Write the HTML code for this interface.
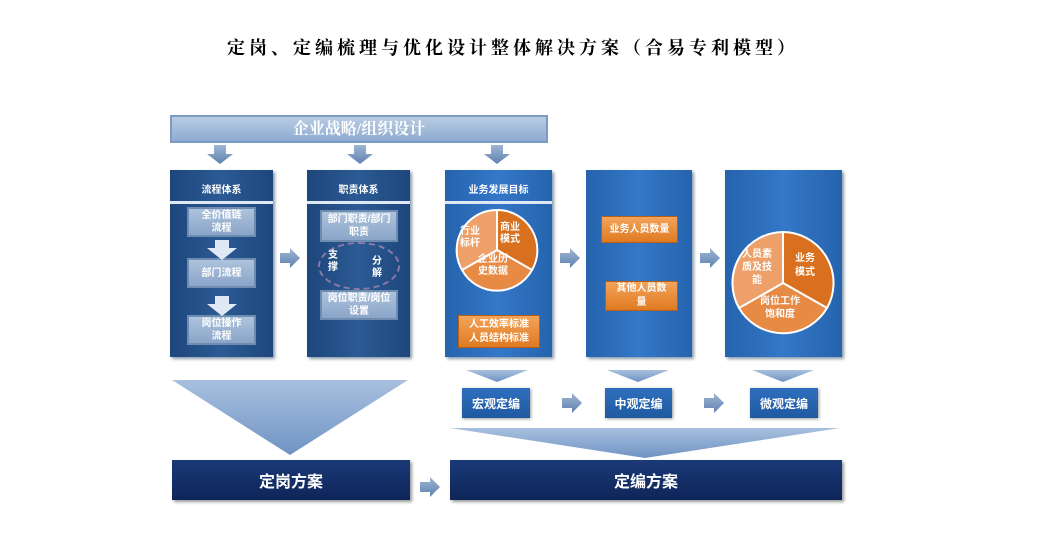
<!DOCTYPE html><html><head><meta charset="utf-8"><style>
body{margin:0;width:1055px;height:540px;background:#fff;position:relative;overflow:hidden;font-family:"Liberation Serif","Noto Serif CJK SC",serif}
.a{position:absolute;box-sizing:border-box}
.t{color:#fff;font-weight:bold;text-align:center;font-family:"Liberation Sans","Noto Sans CJK SC",sans-serif}
.dk{background:linear-gradient(90deg,#1d467c,#2c5a94 50%,#1d467c);box-shadow:2px 2px 3px #8899aa}
.br{background:linear-gradient(90deg,#2563ad,#3478c8 50%,#2563ad);box-shadow:2px 2px 3px #8899aa}
.gr{background:linear-gradient(#aec3dc,#8aa5c8);border:2px solid #6e8bb0;font-size:10px;display:flex;align-items:center;justify-content:center;line-height:13px}
.or{background:linear-gradient(#f2a45a,#e07a22);border:1px solid #b85f15;font-size:10px;display:flex;align-items:center;justify-content:center;line-height:14px}
.hl{height:3px;background:#dfe8f4}
.nv{background:linear-gradient(#1a3a78,#0e2558);font-size:16px;display:flex;align-items:center;justify-content:center;box-shadow:2px 2px 3px #999}
.sb{background:linear-gradient(#2f6fbf,#1f5aa0);font-size:12px;display:flex;align-items:center;justify-content:center;box-shadow:1px 1px 3px #999}
</style></head><body>
<div class="a" style="left:0;top:34px;width:1026px;text-align:center;font-size:18px;font-weight:bold;letter-spacing:4px">定岗、定编梳理与优化设计整体解决方案（合易专利模型）</div>
<div class="a t" style="left:170px;top:115px;width:378px;height:28px;background:linear-gradient(#b9cce3,#8eabd0);border:2px solid #7d9bc2;font-size:16px;line-height:26px;font-family:'Liberation Serif','Noto Serif CJK SC',serif">企业战略/组织设计</div>
<svg class="a" style="left:0;top:0" width="1055" height="540">
<defs><linearGradient id="ar" x1="0" x2="0" y1="0" y2="1"><stop offset="0" stop-color="#9fb6d4"/><stop offset="1" stop-color="#5f82b0"/></linearGradient>
<linearGradient id="tri" x1="0" x2="0" y1="0" y2="1"><stop offset="0" stop-color="#a8c0de"/><stop offset="1" stop-color="#6f93c4"/></linearGradient></defs>
<g fill="url(#ar)">
<path d="M214 145h12v9h7l-13 10-13-10h7z"/><path d="M354 145h12v9h7l-13 10-13-10h7z"/><path d="M491 145h12v9h7l-13 10-13-10h7z"/>
<path d="M280 253h10v-5l10 10-10 10v-5h-10z"/><path d="M560 253h10v-5l10 10-10 10v-5h-10z"/><path d="M700 253h10v-5l10 10-10 10v-5h-10z"/>
<path d="M562 398h10v-5l10 10-10 10v-5h-10z"/><path d="M704 398h10v-5l10 10-10 10v-5h-10z"/><path d="M420 482h10v-5l10 10-10 10v-5h-10z"/>
<path d="M492 294h10v6h6l-11 9-11-9h6z"/><path d="M634 258h10v6h6l-11 9-11-9h6z"/>
</g>
<path d="M172 380L408 380 290 455z" fill="url(#tri)"/>
<path d="M450 428L840 428 645 458z" fill="url(#tri)"/>
<path d="M466 370L528 370 497 382z" fill="url(#tri)"/><path d="M607 370L669 370 638 382z" fill="url(#tri)"/><path d="M752 370L814 370 783 382z" fill="url(#tri)"/>
</svg>
<div class="a dk" style="left:170px;top:170px;width:103px;height:187px"><div class="t" style="font-size:10px;margin-top:11px">流程体系</div><div class="hl" style="margin-top:5px"></div></div>
<div class="a t gr" style="left:187px;top:207px;width:69px;height:30px">全价值链<br>流程</div>
<div class="a t gr" style="left:187px;top:258px;width:69px;height:30px">部门流程</div>
<div class="a t gr" style="left:187px;top:315px;width:69px;height:30px">岗位操作<br>流程</div>
<svg class="a" style="left:200px;top:238px" width="45" height="80"><path d="M15 2h14v8h8l-15 12-15-12h8zM15 58h14v8h8l-15 12-15-12h8z" fill="#dfe8f4"/></svg>
<div class="a dk" style="left:307px;top:170px;width:103px;height:187px"><div class="t" style="font-size:10px;margin-top:11px">职责体系</div><div class="hl" style="margin-top:5px"></div></div>
<div class="a t gr" style="left:320px;top:210px;width:78px;height:32px">部门职责/部门<br>职责</div>
<div class="a" style="left:318px;top:242px;width:82px;height:48px;border:2px dashed #8a7aa8;border-radius:50%"></div>
<div class="a t" style="left:328px;top:250px;font-size:10px;line-height:12px">支<br>撑</div>
<div class="a t" style="left:372px;top:256px;font-size:10px;line-height:12px">分<br>解</div>
<div class="a t gr" style="left:320px;top:290px;width:78px;height:30px">岗位职责/岗位<br>设置</div>
<div class="a br" style="left:445px;top:170px;width:107px;height:187px"><div class="t" style="font-size:10px;margin-top:11px">业务发展目标</div><div class="hl" style="margin-top:5px"></div></div>
<svg class="a" style="left:455px;top:208px" width="84" height="84"><g stroke="#fff" stroke-width="2"><path d="M42 42L42 2A40 40 0 0 1 77 62Z" fill="#d9701f"/><path d="M42 42L77 62A40 40 0 0 1 7 62Z" fill="#e68a44"/><path d="M42 42L7 62A40 40 0 0 1 42 2Z" fill="#eea06a"/></g></svg>
<div class="a t" style="left:460px;top:226px;font-size:10px;line-height:12px">行业<br>标杆</div>
<div class="a t" style="left:500px;top:222px;font-size:10px;line-height:12px">商业<br>模式</div>
<div class="a t" style="left:478px;top:254px;font-size:10px;line-height:12px">企业历<br>史数据</div>
<div class="a t or" style="left:458px;top:315px;width:82px;height:33px">人工效率标准<br>人员结构标准</div>
<div class="a br" style="left:586px;top:170px;width:106px;height:187px"></div>
<div class="a t or" style="left:601px;top:216px;width:77px;height:27px">业务人员数量</div>
<div class="a t or" style="left:605px;top:281px;width:73px;height:30px">其他人员数<br>量</div>
<div class="a br" style="left:725px;top:170px;width:117px;height:187px"></div>
<svg class="a" style="left:730px;top:230px" width="106" height="106"><g stroke="#fff" stroke-width="2"><path d="M53 53L53 2A51 51 0 0 1 97 78Z" fill="#d9701f"/><path d="M53 53L97 78A51 51 0 0 1 9 78Z" fill="#e68a44"/><path d="M53 53L9 78A51 51 0 0 1 53 2Z" fill="#eea06a"/></g></svg>
<div class="a t" style="left:742px;top:248px;font-size:10px;line-height:13px">人员素<br>质及技<br>能</div>
<div class="a t" style="left:795px;top:252px;font-size:10px;line-height:14px">业务<br>模式</div>
<div class="a t" style="left:760px;top:295px;font-size:10px;line-height:13px">岗位工作<br>饱和度</div>
<div class="a t sb" style="left:462px;top:388px;width:68px;height:30px">宏观定编</div>
<div class="a t sb" style="left:605px;top:388px;width:67px;height:30px">中观定编</div>
<div class="a t sb" style="left:750px;top:388px;width:68px;height:30px">微观定编</div>
<div class="a t nv" style="left:172px;top:460px;width:238px;height:40px">定岗方案</div>
<div class="a t nv" style="left:450px;top:460px;width:392px;height:40px">定编方案</div>
</body></html>
